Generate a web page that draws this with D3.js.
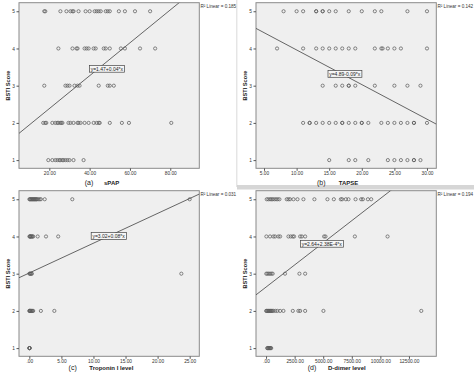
<!DOCTYPE html>
<html><head><meta charset="utf-8">
<script src="https://cdn.jsdelivr.net/npm/d3@7"></script>
<style>
body{margin:0;background:#fff;}
svg{display:block;font-family:"Liberation Sans",Arial,sans-serif;}
</style></head>
<body><svg id="c" width="474" height="376"></svg>
<script>
// ---- data (x values grouped by BSTI score) ----
const scores = [5, 4, 3, 2, 1];
const yTicks = [1, 2, 3, 4, 5];

const spap5 = [17.5, 18, 25.5, 28.5, 30.5, 31.5, 32, 34.5, 38, 40, 42.5, 43.5, 44.5, 45.5, 48, 49, 50, 54.5, 57.5, 62.5, 70];
const spap4 = [24.5, 31.5, 33.5, 34, 37.5, 38.5, 39.5, 42, 43, 47, 48, 50, 55.5, 57.5, 65, 72.5];
const spap3 = [17.5, 28, 29, 30, 32.5, 34, 35, 44.5, 49, 50, 52];
const spap2 = [17, 18, 18.5, 21.5, 23, 24, 24.5, 25.5, 26, 26.5, 29.5, 30.5, 32, 34, 34.5, 35.5, 37.5, 39.5, 42, 43.5, 44.5, 45, 50, 56, 59.5, 80.5];
const spap1 = [19.5, 21.5, 23, 24, 25, 25.5, 26.5, 27, 28, 29, 30, 32, 37];

const tapse5 = [8, 10, 11, 13, 13, 14, 14, 15, 16, 18, 20, 22, 23, 27, 30];
const tapse4 = [7, 11, 13, 14, 15, 16, 17, 18, 19, 22, 23, 23.2, 24, 25, 26, 30];
const tapse3 = [14, 16, 17, 18, 18, 19, 22, 25, 27, 29];
const tapse2 = [11, 12, 12, 13, 14, 15, 16, 17, 17, 18, 19, 20, 20, 21, 23, 24, 25, 26, 27, 28, 28, 30];
const tapse1 = [15, 18, 19, 21, 24, 25, 26, 27, 28, 28, 29];

const trop5 = [0.02, 0.1, 0.2, 0.3, 0.4, 0.5, 0.6, 0.7, 0.8, 0.9, 1.0, 1.1, 1.2, 1.4, 1.6, 1.8, 2.4, 6.7, 25];
const trop4 = [0.02, 0.1, 0.15, 0.2, 0.3, 0.4, 0.5, 0.6, 1.3, 2.6, 4.5];
const trop3 = [0.02, 0.1, 0.2, 0.3, 0.4, 23.7];
const trop2 = [0.01, 0.05, 0.1, 0.15, 0.2, 0.3, 0.4, 0.5, 0.6, 1.8, 3.9];
const trop1 = [0.01, 0.02, 0.03, 0.05];

const ddim5 = [60, 200, 350, 470, 580, 730, 880, 1020, 1170, 1810, 1960, 2100, 2400, 2750, 3270, 4230, 5370, 5930, 6540, 6660, 6980, 7210, 7830, 8320, 8470, 8910, 9200];
const ddim4 = [30, 350, 640, 790, 1080, 1230, 1960, 2160, 2340, 2450, 2980, 3130, 3420, 5080, 5200, 7770, 10630];
const ddim3 = [20, 120, 230, 350, 470, 580, 1660, 2920, 3420];
const ddim2 = [10, 60, 120, 180, 240, 300, 360, 420, 480, 550, 640, 820, 990, 1230, 1520, 2340, 2830, 2980, 3420, 5020, 13580];
const ddim1 = [100, 150, 200, 250, 300, 350, 400, 450];

const panelLetters = ["(a)", "(b)", "(c)", "(d)"];
const xTitles = ["sPAP", "TAPSE", "Troponin I level", "D-dimer level"];
const xTickValues = [[20, 40, 60, 80], [5, 10, 15, 20, 25, 30], [0, 5, 10, 15, 20, 25], [0, 2500, 5000, 7500, 10000, 12500]];
const xTickLabels = [["20.00", "40.00", "60.00", "80.00"], ["5.00", "10.00", "15.00", "20.00", "25.00", "30.00"], [".00", "5.00", "10.00", "15.00", "20.00", "25.00"], [".00", "2500.00", "5000.00", "7500.00", "10000.00", "12500.00"]];
const xDomains = [[4.96, 94.4], [3.77, 31.43], [-1.61, 26.5], [-879, 14893]];
const fitIntercepts = [1.50, 4.89, 3.02, 2.64];
const fitSlopes = [0.0442, -0.093, 0.08, 0.000238];
const fitLabels = ["y=1.47+0.04*x", "y=4.89-0.09*x", "y=3.02+0.08*x", "y=2.64+2.38E-4*x"];
const r2Labels = ["R\u00B2 Linear = 0.185", "R\u00B2 Linear = 0.142", "R\u00B2 Linear = 0.031", "R\u00B2 Linear = 0.194"];
const panelData = [[spap5, spap4, spap3, spap2, spap1], [tapse5, tapse4, tapse3, tapse2, tapse1], [trop5, trop4, trop3, trop2, trop1], [ddim5, ddim4, ddim3, ddim2, ddim1]];

// ---- layout ----
const offsets = [[0, 0], [237, 0], [0, 188], [237, 188]];
const frame = {x0: 19, x1: 199.3, y0: 2.7, y1: 168.3};
const letterX = [89, 84.3, 72.7, 75];
const titleX = [104, 101.7, 89.3, 91];
const boxPos = [[89.5, 68.8], [91, 73.9], [91.2, 48], [63.5, 55.8]];

const svg = d3.select("#c");

// separators of the original composite
svg.append("rect").attr("x", 237).attr("y", 185).attr("width", 237).attr("height", 4.5).attr("fill", "#d6d6d6");
svg.append("line").attr("x1", 236.8).attr("x2", 236.8).attr("y1", 0).attr("y2", 187).attr("stroke", "#cfcfcf").attr("stroke-width", 0.8);

const yScale = d3.scaleLinear().domain([0.78, 5.23]).range([frame.y1, frame.y0]);

panelData.forEach((rows, i) => {
  const g = svg.append("g").attr("transform", `translate(${offsets[i][0]},${offsets[i][1]})`);
  const x = d3.scaleLinear().domain(xDomains[i]).range([frame.x0, frame.x1]);

  g.append("rect").attr("x", frame.x0).attr("y", frame.y0)
    .attr("width", frame.x1 - frame.x0).attr("height", frame.y1 - frame.y0)
    .attr("fill", "#efefef").attr("stroke", "#8a8a8a").attr("stroke-width", 1);

  const clipId = "clip" + i;
  g.append("clipPath").attr("id", clipId).append("rect")
    .attr("x", frame.x0).attr("y", frame.y0).attr("width", frame.x1 - frame.x0).attr("height", frame.y1 - frame.y0);

  // points
  rows.forEach((vals, r) => {
    g.selectAll(null).data(vals).enter().append("circle")
      .attr("cx", d => x(d)).attr("cy", yScale(scores[r])).attr("r", 1.6)
      .attr("fill", "none").attr("stroke", "#5e5e5e").attr("stroke-width", 0.75);
  });

  // fit line
  const xd = xDomains[i];
  g.append("line").attr("clip-path", `url(#${clipId})`)
    .attr("x1", x(xd[0])).attr("y1", yScale(fitIntercepts[i] + fitSlopes[i] * xd[0]))
    .attr("x2", x(xd[1])).attr("y2", yScale(fitIntercepts[i] + fitSlopes[i] * xd[1]))
    .attr("stroke", "#555").attr("stroke-width", 0.9);

  // axes
  const xa = d3.axisBottom(x).tickValues(xTickValues[i]).tickSize(2.5).tickPadding(1)
    .tickFormat((d, k) => xTickLabels[i][k]);
  const gx = g.append("g").attr("transform", `translate(0,${frame.y1})`).call(xa);
  gx.select(".domain").remove();
  gx.selectAll("line").attr("stroke", "#555");
  gx.selectAll("text").attr("font-size", 4.8).attr("fill", "#333");

  const ya = d3.axisLeft(yScale).tickValues(yTicks).tickSize(2.5).tickPadding(1.5).tickFormat(d3.format("d"));
  const gy = g.append("g").attr("transform", `translate(${frame.x0},0)`).call(ya);
  gy.select(".domain").remove();
  gy.selectAll("line").attr("stroke", "#555");
  gy.selectAll("text").attr("font-size", 4.8).attr("fill", "#333");

  // equation label
  const lb = g.append("g").attr("transform", `translate(${boxPos[i][0]},${boxPos[i][1]})`);
  const t = lb.append("text").attr("x", 1.2).attr("y", 1.8).attr("font-size", 5).attr("fill", "#222").text(fitLabels[i]);
  const bb = t.node().getBBox();
  lb.insert("rect", "text").attr("x", 0).attr("y", -3.4).attr("width", bb.width + 2.4).attr("height", 6.8)
    .attr("fill", "#f6f6f6").attr("stroke", "#444").attr("stroke-width", 0.7);

  // R² legend
  g.append("text").attr("x", 200.5).attr("y", 7.8).attr("font-size", 4.6).attr("fill", "#333").text(r2Labels[i]);

  // y title
  g.append("text").attr("transform", `translate(9.8,${(frame.y0 + frame.y1) / 2}) rotate(-90)`)
    .attr("text-anchor", "middle").attr("font-size", 5.6).attr("font-weight", "bold").attr("fill", "#222").text("BSTI Score");

  // x title
  const ty = i < 2 ? 184.5 : 181.8;
  g.append("text").attr("x", letterX[i]).attr("y", ty).attr("text-anchor", "middle").attr("font-size", 7).attr("fill", "#222").text(panelLetters[i]);
  g.append("text").attr("x", titleX[i]).attr("y", ty).attr("font-size", 6).attr("font-weight", "bold").attr("fill", "#222").text(xTitles[i]);
});
</script></body></html>
